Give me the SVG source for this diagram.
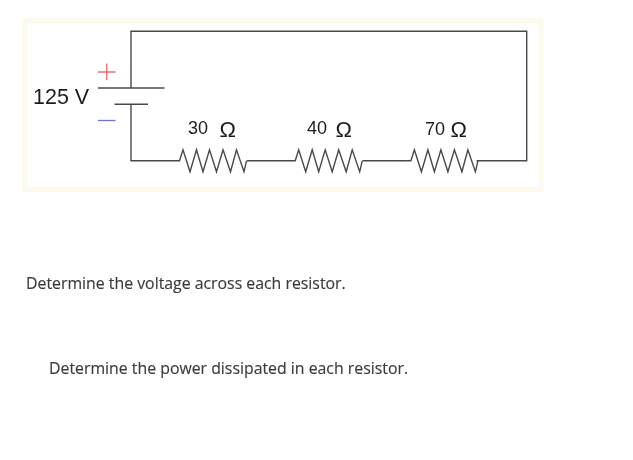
<svg xmlns="http://www.w3.org/2000/svg" width="633" height="460" viewBox="0 0 633 460">
<style>
.wire{fill:none;stroke:#4a4a4a;stroke-width:1.4;stroke-linejoin:miter}
.lab{font-family:"Liberation Sans",Arial,sans-serif;fill:#1c1c1c}
.q{font-family:"Open Sans",sans-serif;font-size:15.85px;fill:#3a3a3a;stroke:#3a3a3a;stroke-width:0.15}
.sign{fill:none;stroke-width:1.3}
</style>
<defs>
<filter id="soft" x="-5%" y="-5%" width="110%" height="110%"><feGaussianBlur stdDeviation="0.4"/></filter>
<path id="zig" d="M0 0H3.500L7 -11 14 11 20.500 -11 27 11 33.500 -11 40.500 11 47 -11 54.500 11 60.500 -11 68 11 70.500 0"/>
</defs>
<rect width="633" height="460" fill="#fff"/>
<g filter="url(#soft)">
<rect id="frame" x="25" y="20.500" width="516" height="169" fill="#fff" stroke="#fdf9ec" stroke-width="5"/>
<g id="connectors">
<path class="wire" d="M131 88V31.300H526.700V160.800H476.500"/>
<path class="wire" d="M131 104V160.800H176"/>
<path class="wire" d="M246.700 160.800H292"/>
<path class="wire" d="M362.400 160.800H407.700"/>
</g>
<g id="battery">
<path class="wire" d="M98 88H164.500M114.500 104.300H148"/>
<path class="sign" stroke="#f26a6a" d="M98 72H115.500M106.700 63.500V80"/>
<path class="sign" stroke="#6a76e0" d="M98 120.500H115.500"/>
<text class="lab" x="33" y="104" font-size="21.500">125 V</text>
</g>
<g id="r1"><use href="#zig" x="176" y="160.800" class="wire"/><text class="lab" x="188" y="134" font-size="18">30</text><text class="lab" x="219.500" y="136.500" font-size="22">Ω</text></g>
<g id="r2"><use href="#zig" x="291.700" y="160.800" class="wire"/><text class="lab" x="307" y="134" font-size="18">40</text><text class="lab" x="335.500" y="136.500" font-size="22">Ω</text></g>
<g id="r3"><use href="#zig" x="407.400" y="160.800" class="wire"/><text class="lab" x="425" y="135" font-size="18">70</text><text class="lab" x="450.500" y="136.500" font-size="22">Ω</text></g>
<text id="q1" class="q" x="26" y="289">Determine the voltage across each resistor.</text>
<text id="q2" class="q" x="49" y="373.500">Determine the power dissipated in each resistor.</text>
</g>
</svg>
